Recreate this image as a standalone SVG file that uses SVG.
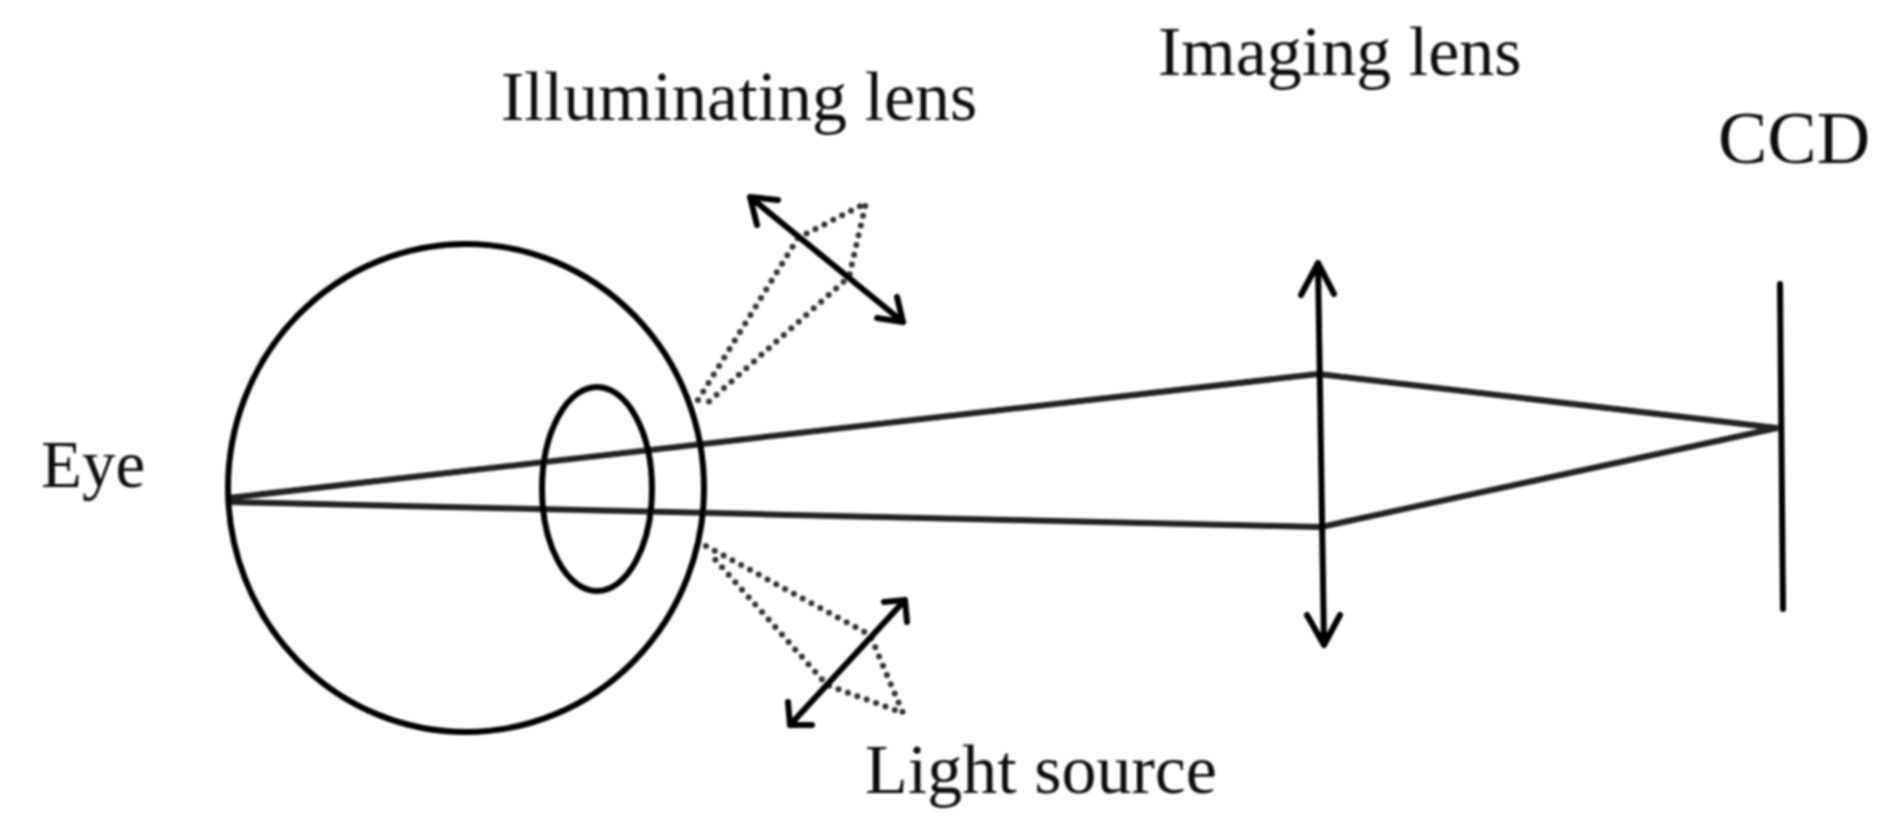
<svg xmlns="http://www.w3.org/2000/svg" width="1892" height="821" viewBox="0 0 1892 821">
<defs><filter id="soft" x="-5%" y="-5%" width="110%" height="110%"><feGaussianBlur stdDeviation="0.9"/></filter></defs>
<style>
.s{fill:none;stroke:#000;stroke-width:6;stroke-linecap:round;stroke-linejoin:round}
.r{fill:none;stroke:#222;stroke-width:6;stroke-linejoin:round}
.d{fill:none;stroke:#333;stroke-width:6;stroke-dasharray:0 10;stroke-linecap:round;stroke-linejoin:round}
text{font-family:"Liberation Serif","Times New Roman",serif;font-size:70px;fill:#111}
</style>
<rect width="1892" height="821" fill="#fff"/>
<g filter="url(#soft)">
<g id="connectors">
<path class="r" d="M228 498L1318 374L1777 428L1321 527L228 502"/>
<path class="d" d="M698 400L798 238L866 203L849 277L705 405"/>
<path class="d" d="M706 546L870 635L903 713L827 685L712 556"/>
</g>
<g id="eye"><ellipse class="s" cx="466" cy="488" rx="238" ry="244"/><ellipse class="s" cx="597" cy="489" rx="55" ry="102"/><text x="41" y="487" style="font-size:67px">Eye</text></g>
<g id="illuminating-lens"><path class="s" d="M750 197L903 322M778 200L750 197L757 225M877 318L903 322L897 297"/><text x="501" y="120">Illuminating lens</text></g>
<g id="light-source"><path class="s" d="M905 600L790 725M884 602L905 600L907 622M788 702L790 725L812 725"/><text x="865" y="793">Light source</text></g>
<g id="imaging-lens"><path class="s" d="M1318 263L1324 645M1301 295L1318 263L1334 294M1307 615L1324 645L1340 615"/><text x="1158" y="75">Imaging lens</text></g>
<g id="ccd"><path class="s" d="M1780 284L1783 609"/><text x="1718" y="163" style="font-size:74px">CCD</text></g>
</g>
</svg>
